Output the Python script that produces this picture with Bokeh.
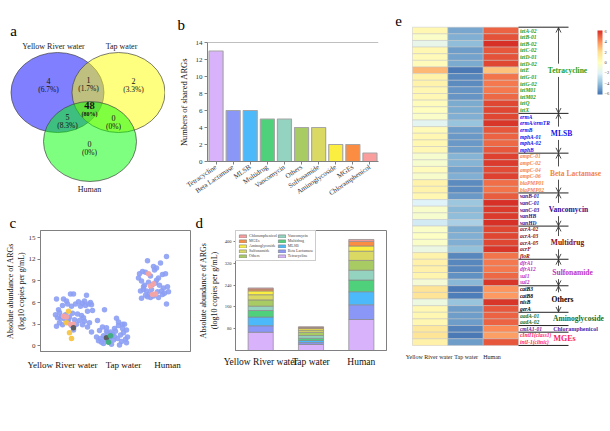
from bokeh.plotting import figure
from bokeh.layouts import row, column
from bokeh.models import (Range1d, FactorRange, Span, ColorBar, LinearColorMapper,
                          FixedTicker, Arrow, OpenHead, Legend, LegendItem, ColumnDataSource)
from bokeh.transform import transform
from bokeh.embed import file_html
from bokeh.resources import INLINE
from bokeh.core.properties import value

SERIF = "Liberation Serif"

# ---------------- data ----------------
categories = ["Tetracycline", "Beta Lactamase", "MLSB", "Multidrug", "Vancomycin",
              "Others", "Sulfonamide", "Aminoglycoside", "MGEs", "Chloramphenicol"]
shared_counts = [13, 6, 6, 5, 5, 4, 4, 2, 2, 1]

venn_sets = ["Yellow River water", "Tap water", "Human"]
# regions: YR only, YR&Tap, Tap only, all three, YR&Human, Tap&Human, Human only
venn_counts = [4, 1, 2, 48, 5, 0, 0]

samples = ["Yellow River water", "Tap water", "Human"]
abund_tetracycline = [67, 22, 114]
abund_beta = [24, 7, 54]
abund_mlsb = [32, 8, 48]
abund_multidrug = [24, 8, 43]
abund_vancomycin = [16, 10, 36]
abund_others = [23, 12, 36]
abund_sulfonamide = [19, 8, 34]
abund_aminoglycoside = [14, 6, 19]
abund_mges = [7, 4, 17]
abund_chloramphenicol = [4, 2, 7]

# scatter (panel c): x = position across plot, y = log10 abundance
yr_x = [16, 23, 26, 30, 33, 38, 42, 44, 46, 50, 18, 22, 27, 31, 35, 40, 45, 48, 51,
        15, 19, 21, 25, 29, 32, 37, 41, 43, 47, 52, 17, 20, 24, 28, 34, 39, 44, 49,
        16, 22, 27, 31, 36, 42, 47, 51, 33, 19]
yr_y = [6.5, 6.5, 6.2, 7.2, 7.2, 6.1, 5.9, 6.2, 7.0, 6.0, 5.0, 5.6, 5.8, 5.5, 5.8, 5.5, 5.6, 5.8, 5.7,
        4.3, 4.6, 4.1, 4.3, 4.0, 4.5, 4.4, 4.2, 3.9, 4.8, 4.9, 3.9, 3.8, 3.7, 3.6, 3.6, 3.5, 3.4, 3.2,
        2.7, 2.9, 3.3, 2.8, 3.0, 2.9, 2.6, 1.9, 2.2, 3.2]
tap_x = [57, 62, 66, 70, 74, 78, 82, 86, 64, 76, 78, 84, 56, 60, 63, 67, 69, 72, 75, 80, 83, 87,
         58, 61, 65, 68, 73, 77, 81, 85, 71, 79, 63, 59, 66, 74, 82, 70, 86]
tap_y = [3.5, 2.6, 2.0, 1.9, 2.4, 2.8, 3.0, 2.2, 5.0, 3.8, 3.3, 3.0, 1.2, 1.0, 1.4, 1.8, 1.1, 1.6, 2.0, 1.5, 1.8, 1.2,
         0.7, 0.5, 0.9, 0.6, 0.8, 1.0, 0.6, 0.9, 0.2, 0.1, 0.3, 2.1, 2.5, 1.3, 2.4, 1.3, 0.4]
hu_x = [99, 102, 105, 110, 114, 118, 122, 125, 107, 120, 126, 113, 116, 98, 101, 104, 108, 112, 115, 119,
        123, 127, 100, 103, 106, 109, 111, 117, 121, 124, 128, 101, 105, 107, 113, 118, 122, 126, 110, 103, 116]
hu_y = [10.0, 10.3, 10.2, 9.7, 10.5, 9.4, 9.9, 10.0, 11.8, 11.5, 12.4, 11.0, 10.8, 9.4, 9.0, 8.4, 8.8, 8.5, 8.7, 8.4,
        8.0, 8.2, 7.6, 7.8, 7.6, 7.2, 7.8, 7.5, 7.6, 7.3, 7.5, 6.6, 7.0, 6.8, 6.9, 6.7, 7.1, 5.8, 6.7, 8.2, 9.1]
hi_x = [28, 26, 29, 31, 23, 26, 30, 33, 33, 66, 70, 68, 108, 110, 113, 112, 115]
hi_y = [4.8, 3.2, 1.8, 1.0, 4.1, 4.0, 3.0, 3.0, 2.5, 1.1, 1.4, 0.5, 10.0, 8.3, 8.6, 7.1, 7.2]
hi_kind = ["y", "y", "y", "y", "p", "p", "p", "p", "k", "k", "g", "g", "p", "p", "p", "p", "p"]

# heatmap (panel e)
genes = ["tetA-02", "tetB-01", "tetB-02", "tetC-02", "tetD-01", "tetD-02", "tetE", "tetG-01", "tetG-02",
         "tetM01", "tetM02", "tetQ", "tetX",
         "ermA", "ermA/ermTR", "ermB", "mphA-01", "mphA-02", "mphB",
         "ampC-01", "ampC-02", "ampC-04", "ampC-06", "blaPMP01", "blaPMP02",
         "vanB-01", "vanC-01", "vanC-03", "vanHB", "vanHD",
         "acrA-02", "acrA-03", "acrA-05", "acrF", "floR",
         "dfrA1", "dfrA12", "sul1", "sul2",
         "catB3", "catB8", "nisB", "gerA",
         "aadA-01", "aadA-02",
         "cmlA1-01",
         "cIntI1(class1)", "intI-1(clinic)"]
gene_group = (["Tetracycline"] * 13 + ["MLSB"] * 6 + ["Beta Lactamase"] * 6 + ["Vancomycin"] * 5 +
              ["Multidrug"] * 5 + ["Sulfonamide"] * 4 + ["Others"] * 4 + ["Aminoglycoside"] * 2 +
              ["Chloramphenicol"] * 1 + ["MGEs"] * 2)
hm_yr = [0.5, -0.3, -1.5, 0.5, 0.3, 0.2, 3.0, 0.8, 0.8, 0.6, 0.4, 0.2, 0.0,
         -0.3, -1.8, 0.3, 0.6, 0.6, 0.4,
         -0.5, -0.5, 0.2, -0.4, 0.8, 0.8,
         0.6, -2.0, -0.4, -0.6, -2.4,
         -0.3, -0.2, -0.3, -1.3, 0.8,
         0.9, 0.9, 0.7, -0.8,
         1.8, 1.8, -1.2, 0.5,
         0.6, 0.6,
         1.5,
         1.8, 0.9]
hm_tap = [-4.7, -4.5, -4.1, -5.0, -4.8, -4.6, -5.9, -5.5, -5.4, -5.2, -5.2, -4.6, -4.6,
          -4.4, -3.9, -5.0, -5.1, -5.1, -4.9,
          -4.3, -4.3, -4.8, -4.5, -5.4, -5.4,
          -5.1, -3.7, -4.2, -4.1, -3.4,
          -4.6, -4.5, -4.5, -4.0, -5.5,
          -5.5, -5.5, -5.3, -4.2,
          -5.9, -5.8, -3.9, -4.9,
          -5.0, -5.0,
          -5.7,
          -5.9, -4.9]
hm_human = [4.9, 5.3, 6.0, 5.2, 5.3, 5.5, 2.8, 4.6, 4.5, 4.5, 4.8, 5.5, 5.5,
            5.5, 5.9, 5.2, 4.9, 4.8, 5.2,
            5.7, 5.8, 5.4, 5.7, 4.7, 4.6,
            5.1, 6.0, 5.8, 5.8, 6.0,
            5.6, 5.6, 5.6, 5.9, 4.6,
            4.5, 4.5, 4.8, 5.9,
            3.8, 3.7, 5.9, 5.2,
            5.0, 4.9,
            4.1,
            3.6, 5.2]
group_order = ["Tetracycline", "MLSB", "Beta Lactamase", "Vancomycin", "Multidrug",
               "Sulfonamide", "Others", "Aminoglycoside", "Chloramphenicol", "MGEs"]

# ---------------- styles ----------------
cat_colors = ["#d8b2fa", "#8b97f7", "#4cb9fb", "#4fd17b", "#93d3bf",
              "#a8cb63", "#d9d964", "#fcee40", "#fb8d42", "#fa9d9d"]
grp_text_color = {"Tetracycline": "#1e9e1e", "MLSB": "#1010ee", "Beta Lactamase": "#f5853f",
                  "Vancomycin": "#3d0a8a", "Multidrug": "#8b0a0a", "Sulfonamide": "#c030c0",
                  "Others": "#000000", "Aminoglycoside": "#1a6e1a", "Chloramphenicol": "#5a22a0",
                  "MGEs": "#ff1a66"}
hi_color = {"y": "#f7c542", "p": "#f5a3a3", "k": "#5a5a5a", "g": "#3fae7e"}


def interp_palette(stops, n):
    rgb = [tuple(int(s[i:i + 2], 16) for i in (1, 3, 5)) for s in stops]
    out = []
    for k in range(n):
        t = k / (n - 1) * (len(rgb) - 1)
        i = min(int(t), len(rgb) - 2)
        f = t - i
        c = [round(rgb[i][j] + (rgb[i + 1][j] - rgb[i][j]) * f) for j in range(3)]
        out.append("#%02x%02x%02x" % tuple(c))
    return out


heat_palette = interp_palette(["#4575b4", "#91bfdb", "#e0f3f8", "#ffffbf", "#fee090", "#fc8d59", "#d73027"], 100)


def no_align(p):
    try:
        p.frame_align = False
    except Exception:
        pass


def style_axis(ax, size):
    ax.axis_line_color = "#808080"
    ax.major_tick_line_color = "#808080"
    ax.minor_tick_line_color = None
    ax.major_tick_out = 3
    ax.major_tick_in = 0
    ax.major_label_text_font = SERIF
    ax.major_label_text_font_size = size
    ax.major_label_text_color = "#333333"
    ax.axis_label_text_font = SERIF
    ax.axis_label_text_font_style = "normal"
    ax.axis_label_text_color = "#111111"


def letter_title(p, text, offset, standoff):
    p.title.text = text
    p.title.align = "left"
    p.title.offset = offset
    p.title.standoff = standoff
    p.title.text_font = SERIF
    p.title.text_font_size = "15px"
    p.title.text_font_style = "normal"
    p.title.text_color = "#000000"


TOP_H = 212
BOT_H = 431 - TOP_H

# ---------------- panel a (venn) ----------------
pa = figure(width=165, height=TOP_H, x_range=Range1d(0, 165), y_range=Range1d(TOP_H, 0),
            toolbar_location=None, output_backend="svg", min_border=0,
            x_axis_location=None, y_axis_location=None)
no_align(pa)
pa.grid.visible = False
pa.outline_line_color = None
venn_cx = [57, 118, 89.5]
venn_cy = [92, 92, 141]
venn_fill = ["#0000ff", "#ffff00", "#00ff00"]
for i in range(3):
    pa.ellipse(x=venn_cx[i], y=venn_cy[i], width=93, height=80, fill_color=venn_fill[i],
               fill_alpha=0.5, line_color="#444444", line_width=0.7)
pa.text(x=[53, 121, 89], y=[46, 46, 189], text=venn_sets, text_font=value(SERIF),
        text_font_size="8px", text_align="center", text_baseline="middle", text_color="#222222")
total = sum(venn_counts)


def pct(v):
    s = "%.1f" % (v / total * 100)
    if s.endswith(".0"):
        s = s[:-2]
    return "(" + s + "%)"


reg_x = [48, 88, 133, 89, 67, 113, 89]
reg_y = [80, 79, 80, 105, 116, 117, 143]
for i, v in enumerate(venn_counts):
    big = (i == 3)
    pa.text(x=[reg_x[i]], y=[reg_y[i]], text=[str(v)], text_font=value(SERIF),
            text_font_size="10.5px" if big else "8px", text_font_style="bold" if big else "normal",
            text_align="center", text_baseline="middle", text_color="#111111")
    pa.text(x=[reg_x[i]], y=[reg_y[i] + (8 if big else 8.5)], text=[pct(v)], text_font=value(SERIF),
            text_font_size="6px" if big else "7.5px", text_font_style="bold" if big else "normal",
            text_align="center", text_baseline="middle", text_color="#111111")
pa.text(x=[13], y=[30], text=["a"], text_font=value(SERIF), text_font_size="15px",
        text_align="center", text_baseline="middle", text_color="#000000")

# ---------------- panel b (bars) ----------------
pb = figure(width=225, height=TOP_H, x_range=FactorRange(factors=categories), y_range=Range1d(0, 14),
            toolbar_location=None, output_backend="svg",
            min_border_left=42, min_border_right=12, min_border_top=42, min_border_bottom=TOP_H - 161)
no_align(pb)
pb.grid.visible = False
pb.outline_line_color = None
src_b = ColumnDataSource(dict(cat=categories, n=shared_counts, c=cat_colors))
pb.vbar(x="cat", top="n", width=0.82, fill_color="c", line_color="#a6a6a6", line_width=1.2, source=src_b)
pb.add_layout(Span(location=14, dimension="width", line_color="#808080", line_width=1))
pb.yaxis.ticker = FixedTicker(ticks=[0, 2, 4, 6, 8, 10, 12, 14])
style_axis(pb.yaxis[0], "7px")
style_axis(pb.xaxis[0], "7px")
pb.yaxis.axis_label = "Numbers of shared ARGs"
pb.yaxis.axis_label_text_font_size = "8.5px"
pb.yaxis.axis_label_standoff = 4
pb.yaxis.major_label_standoff = 2
pb.xaxis.major_label_orientation = 0.6
pb.xaxis.major_label_standoff = 2
letter_title(pb, "b", -30, 20)

# ---------------- panel c (scatter) ----------------
pc = figure(width=195, height=BOT_H, x_range=Range1d(0, 150), y_range=Range1d(-0.8, 16),
            toolbar_location=None, output_backend="svg",
            min_border_left=40, min_border_right=5, min_border_top=228 - TOP_H, min_border_bottom=80)
no_align(pc)
pc.grid.visible = False
pc.outline_line_color = "#808080"
pc.scatter(x=yr_x + tap_x + hu_x, y=yr_y + tap_y + hu_y, size=5.5, fill_color="#8c9ef4",
           fill_alpha=0.9, line_color=None)
pc.scatter(x=hi_x, y=hi_y, size=5.5, fill_color=[hi_color[k] for k in hi_kind],
           fill_alpha=0.95, line_color=None)
tick_c = [22, 83, 127]
pc.xaxis.ticker = FixedTicker(ticks=tick_c)
pc.xaxis.major_label_overrides = {t: s for t, s in zip(tick_c, samples)}
pc.yaxis.ticker = FixedTicker(ticks=[0, 3, 6, 9, 12, 15])
style_axis(pc.yaxis[0], "7px")
style_axis(pc.xaxis[0], "9px")
pc.xaxis.major_tick_line_color = None
pc.xaxis.major_label_standoff = 5
pc.xaxis.major_label_text_color = "#111111"
pc.yaxis.axis_label = "Absolute abundance of ARGs\n(log10 copies per g/mL)"
pc.yaxis.axis_label_text_font_size = "8px"
pc.yaxis.axis_label_standoff = 0
pc.yaxis.major_label_standoff = 2
letter_title(pc, "c", -31, 0)

# ---------------- panel d (stacked bars) ----------------
stack_vals = [abund_tetracycline, abund_beta, abund_mlsb, abund_multidrug, abund_vancomycin,
              abund_others, abund_sulfonamide, abund_aminoglycoside, abund_mges, abund_chloramphenicol]
src_d = dict(sample=samples)
for c, v in zip(categories, stack_vals):
    src_d[c] = v
pdd = figure(width=195, height=BOT_H, x_range=FactorRange(factors=samples), y_range=Range1d(0, 441),
             toolbar_location=None, output_backend="svg",
             min_border_left=36, min_border_right=4, min_border_top=227 - TOP_H, min_border_bottom=81)
no_align(pdd)
pdd.grid.visible = False
pdd.outline_line_color = "#808080"
rs = pdd.vbar_stack(categories, x="sample", width=0.5, source=ColumnDataSource(src_d),
                    fill_color=cat_colors, line_color="#8a8a8a", line_width=0.7)
items = [LegendItem(label=c, renderers=[r]) for c, r in zip(categories, rs)][::-1]
leg = Legend(items=items, ncols=2, location="top_left", label_text_font=SERIF,
             label_text_font_size="4px", label_height=4, glyph_height=4, glyph_width=9,
             label_standoff=2, spacing=0, padding=2, margin=0, border_line_color="#999999",
             border_line_width=0.5, background_fill_alpha=1)
pdd.add_layout(leg)
pdd.yaxis.ticker = FixedTicker(ticks=[80, 160, 240, 320, 400])
style_axis(pdd.yaxis[0], "4.5px")
style_axis(pdd.xaxis[0], "9.5px")
pdd.yaxis.major_tick_out = 2
pdd.xaxis.major_tick_line_color = None
pdd.xaxis.major_label_standoff = 3
pdd.xaxis.major_label_text_color = "#111111"
pdd.yaxis.axis_label = "Absolute abundance of ARGs\n(log10 copies per g/mL)"
pdd.yaxis.axis_label_text_font_size = "8px"
pdd.yaxis.axis_label_standoff = 3
pdd.yaxis.major_label_standoff = 2
letter_title(pdd, "d", -40, 0)

# ---------------- panel e (heatmap) ----------------
COLW, ROWH, X0, Y0 = 35.33, 6.63, 412, 26.7
pe = figure(width=220, height=431,
            x_range=Range1d((390 - X0) / COLW, (610 - X0) / COLW),
            y_range=Range1d((431 - Y0) / ROWH, (0 - Y0) / ROWH),
            toolbar_location=None, output_backend="svg", min_border=0,
            x_axis_location=None, y_axis_location=None)
no_align(pe)
pe.grid.visible = False
pe.outline_line_color = None
mapper = LinearColorMapper(palette=heat_palette, low=-6.1, high=6.1)
cx, cy, cv = [], [], []
for i in range(len(genes)):
    for j, col in enumerate([hm_yr, hm_tap, hm_human]):
        cx.append(j + 0.5)
        cy.append(i + 0.5)
        cv.append(col[i])
pe.rect(x="x", y="y", width=1, height=1, source=ColumnDataSource(dict(x=cx, y=cy, v=cv)),
        fill_color=transform("v", mapper), line_color="#c4c4c4", line_width=0.5)
pe.text(x=[3.04] * len(genes), y=[i + 0.5 for i in range(len(genes))], text=genes,
        text_color=[grp_text_color[g] for g in gene_group], text_font=value(SERIF),
        text_font_size="5.5px", text_font_style="bold italic", text_baseline="middle", text_align="left")
pe.text(x=[0.47, 1.52, 2.25], y=[49.8] * 3, text=samples, text_font=value(SERIF),
        text_font_size="6px", text_align="center", text_baseline="middle", text_color="#222222")

grp_label_px = {"Tetracycline": 567, "MLSB": 561, "Beta Lactamase": 575, "Vancomycin": 568,
                "Multidrug": 567, "Sulfonamide": 572, "Others": 562, "Aminoglycoside": 578,
                "Chloramphenicol": 575, "MGEs": 564}
grp_label_size = {"Chloramphenicol": "6px", "MGEs": "8px"}
bounds = [0]
for g in group_order:
    bounds.append(bounds[-1] + gene_group.count(g))
line_end = (568 - X0) / COLW
pe.segment(x0=[3.0] * len(bounds), y0=bounds, x1=[line_end] * len(bounds), y1=bounds,
           line_color="#222222", line_width=1)
ax_x = (558 - X0) / COLW
for k, g in enumerate(group_order):
    a, b = bounds[k], bounds[k + 1]
    c = (a + b) / 2
    pe.text(x=[(grp_label_px[g] - X0) / COLW], y=[c], text=[g], text_font=value(SERIF),
            text_font_size=grp_label_size.get(g, "7.5px"), text_font_style="bold",
            text_color=grp_text_color[g], text_align="center", text_baseline="middle")
    if b - a >= 3:
        for ys, ye in [(c - 1.0, a + 0.05), (c + 1.0, b - 0.05)]:
            pe.add_layout(Arrow(end=OpenHead(size=5, line_width=0.8, line_color="#222222"),
                                x_start=ax_x, y_start=ys, x_end=ax_x, y_end=ye,
                                line_width=0.8, line_color="#222222"))
pe.text(x=[(398 - X0) / COLW], y=[(20 - Y0) / ROWH], text=["e"], text_font=value(SERIF),
        text_font_size="15px", text_align="center", text_baseline="middle", text_color="#000000")
cb = ColorBar(color_mapper=mapper, ticker=FixedTicker(ticks=[-6, -4, -2, 0, 2, 4, 6]),
              width=5, height=64, location=(207, 337), padding=0, margin=0, label_standoff=2,
              major_label_text_font_size="4.5px", major_label_text_font=SERIF,
              major_tick_line_color=None, bar_line_color=None, background_fill_alpha=0,
              border_line_color=None)
pe.add_layout(cb)

layout = row(column(row(pa, pb), row(pc, pdd)), pe)
open("out.html", "w").write(file_html(layout, INLINE))
